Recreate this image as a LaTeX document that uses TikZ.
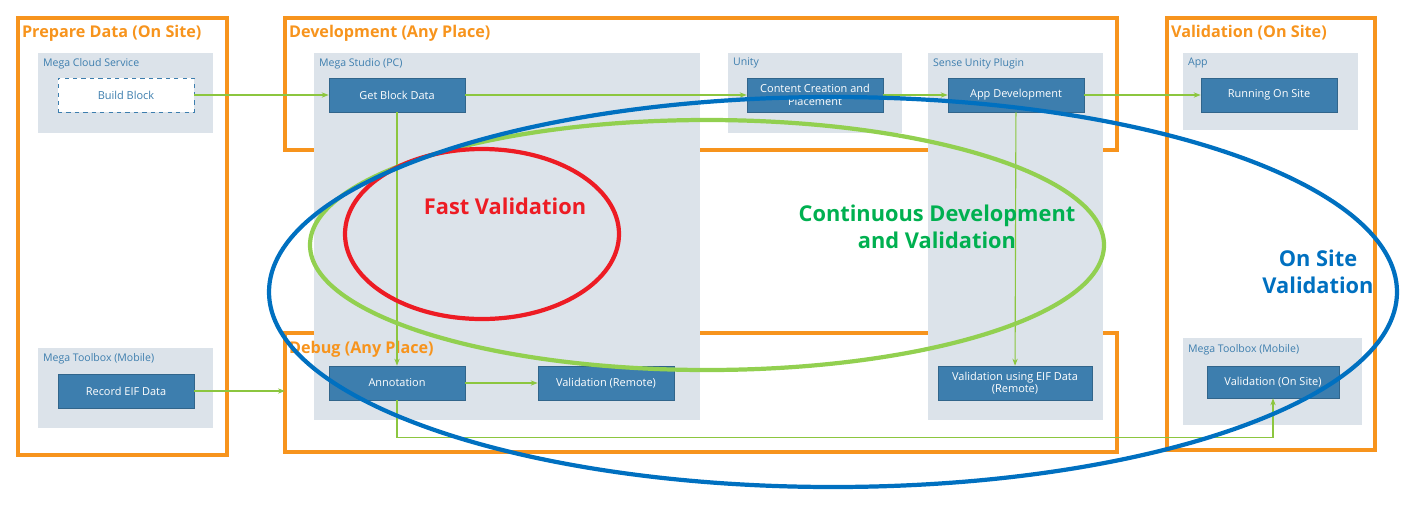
\documentclass[tikz,border=0pt]{standalone}
\usepackage{fontspec}
\setmainfont{Open Sans}
\usetikzlibrary{arrows.meta}
\usetikzlibrary{positioning}

\definecolor{zone}{HTML}{F7941D}
\definecolor{panel}{HTML}{DCE3EA}
\definecolor{stepblue}{HTML}{3D7EAE}
\definecolor{flow}{HTML}{8CC63F}
\definecolor{ovalred}{HTML}{ED1C24}
\definecolor{ovalgreen}{HTML}{92D050}
\definecolor{ovalblue}{HTML}{0070C0}
\definecolor{txtgreen}{HTML}{00B050}

\begin{document}
\begin{tikzpicture}[x=0.025cm, y=-0.025cm,
  zone/.style={draw=zone, line width=2.2pt},
  zonetitle/.style={anchor=north west, text=zone, font=\bfseries\fontsize{11.5}{13}\selectfont, inner sep=2pt},
  paneltitle/.style={anchor=north west, text=stepblue, font=\fontsize{7.5}{9}\selectfont, inner sep=2pt},
  task/.style={fill=stepblue, draw=stepblue!80!black, text=white, minimum width=3.4cm, minimum height=0.85cm,
    font=\fontsize{7.8}{8.8}\selectfont, align=center, inner sep=1pt},
  flow/.style={draw=flow, line width=0.8pt, -{Stealth[length=5pt]}},
  oval/.style={line width=3pt},
  ovaltext/.style={font=\bfseries\fontsize{15.5}{19}\selectfont, align=center}
]
\useasboundingbox (0,0) rectangle (1408,509);

% zones
\draw[zone] (18,18) rectangle (227,455);
\node[zonetitle] at (19,22) {Prepare Data (On Site)};
\draw[zone] (285,18) rectangle (1117,150);
\node[zonetitle] at (286,22) {Development (Any Place)};
\draw[zone] (285,333) rectangle (1117,452);
\draw[zone] (1167,18) rectangle (1375,450);
\node[zonetitle] at (1168,22) {Validation (On Site)};

% panels
\fill[panel] (38,53) rectangle (213,133);
\node[paneltitle] at (40,55) {Mega Cloud Service};
\fill[panel] (38,348) rectangle (213,428);
\node[paneltitle] at (40,350) {Mega Toolbox (Mobile)};
\fill[panel] (314,53) rectangle (700,420);
\node[paneltitle] at (316,55) {Mega Studio (PC)};
\fill[panel] (728,53) rectangle (902,133);
\node[paneltitle] at (730,55) {Unity};
\fill[panel] (928,53) rectangle (1103,420);
\node[paneltitle] at (930,55) {Sense Unity Plugin};
\fill[panel] (1183,53) rectangle (1358,130);
\node[paneltitle] at (1185,55) {App};
\fill[panel] (1183,338) rectangle (1362,425);
\node[paneltitle] at (1185,341) {Mega Toolbox (Mobile)};
\node[zonetitle] at (286,338) {Debug (Any Place)};

% tasks
\node[task, fill=white, draw=stepblue, dashed, text=stepblue] (build) at (126,95) {Build Block};
\node[task] (getdata) at (397,95) {Get Block Data};
\node[task] (content) at (815,95) {Content Creation and\\Placement};
\node[task] (appdev) at (1016,95) {App Development};
\node[task] (running) at (1269,95) {Running On Site};
\node[task] (record) at (126,391) {Record EIF Data};
\node[task] (annot) at (397,383) {Annotation};
\node[task] (remote) at (606,383) {Validation (Remote)};
\node[task, minimum width=3.85cm] (eifval) at (1015,383) {Validation using EIF Data\\(Remote)};
\node[task, minimum width=3.3cm, minimum height=0.8cm] (onsite) at (1273,382) {Validation (On Site)};
\coordinate (debugin) at (285,391);

% flows
\draw[flow] (build) -- (getdata);
\draw[flow] (getdata) -- (content);
\draw[flow] (content) -- (appdev);
\draw[flow] (appdev) -- (running);
\draw[flow] (getdata) -- (annot);
\draw[flow] (appdev) -- (eifval);
\draw[flow] (record) -- (debugin);
\draw[flow] (annot) -- (remote);
\draw[flow] (annot.south) -- ++(0,37) -| (onsite.south);

% ovals
\draw[oval, ovalgreen] (707,245) ellipse [x radius=397, y radius=125];
\draw[oval, ovalred] (482,234) ellipse [x radius=137, y radius=85];
\draw[oval, ovalblue] (833,292) ellipse [x radius=564, y radius=195];
\node[ovaltext, text=ovalred] (fastlbl) at (505,206) {Fast Validation};
\node[ovaltext, text=txtgreen] (contlbl) at (937,227) {Continuous Development\\and Validation};
\node[ovaltext, text=ovalblue] (sitelbl) at (1318,272) {On Site\\Validation};
\end{tikzpicture}
\end{document}
